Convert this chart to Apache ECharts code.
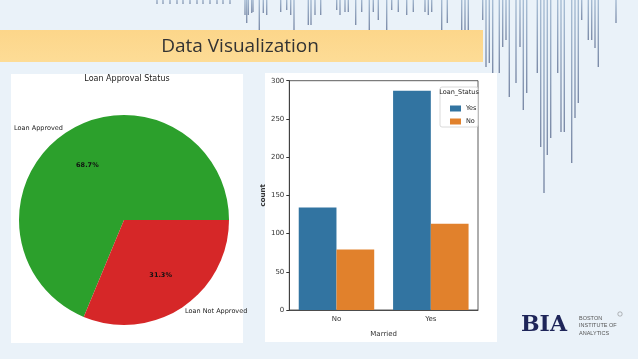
<!DOCTYPE html>
<html>
<head>
<meta charset="utf-8">
<script src="https://cdn.jsdelivr.net/npm/echarts@6/dist/echarts.min.js"></script>
<style>
html,body{margin:0;padding:0;background:#eaf2f9;}
#c{width:638px;height:359px;}
</style>
</head>
<body>
<div id="c"></div>
<script>
// ---- data ----
const pieLabels = ['Loan Approved', 'Loan Not Approved'];
const pieValues = [422, 192];
const pieColors = ['#2ca02c', '#d62728'];

const marriedCategories = ['No', 'Yes'];
const loanYes = [134, 287];
const loanNo = [79, 113];
const yTicks = [0, 50, 100, 150, 200, 250, 300];

// decorative hanging lines: [x, length]
const decoLines = [
  [157,4],[163,4],[170,4],[177,4],[183,4],[190,4],[197,4],[203,4],[210,4],[217,4],[223,4],[230,4],
  [245,15],[246.7,23],[248.3,15],[251.7,13],[253,12],[259.3,30],[263.3,13],[266.7,15],[280.7,12],[286.7,10],
  [290.7,15],[294,30],[308.3,25],[311,25],[315,15],[320.7,15],[336.7,10],[340,15],[345,12],[348.3,12],
  [355.7,25],[361.7,12],[369.3,30],[373.3,12],[378.3,20],[386.7,30],[391.7,10],[398.3,12],[406.7,15],
  [413.3,12],[425,12],[428.3,15],[431.7,12],[441.7,30],[447.3,23],[461.7,30],[465,30],[468.3,30],
  [482.7,20],[486,67],[489.3,63],[492.7,73],[499.3,73],[502.7,47],[506,40],[509.3,97],[516,83],[520,47],
  [523.3,110],[526.7,93],[537.3,73],[540.7,147],[544,193],[547.3,155],[550.7,138],[557.7,73],[561,132],
  [564.3,132],[571.7,163],[575,118],[578.3,103],[581.7,20],[588.3,40],[591.7,40],[595,48],[598.3,67],[616,23]
];

const chart = echarts.init(document.getElementById('c'), null, {renderer:'canvas'});
const font = 'DejaVu Sans';

const graphics = [];
// panels
graphics.push({type:'rect', z:-10, shape:{x:11,y:74,width:232,height:269}, style:{fill:'#ffffff'}});
graphics.push({type:'rect', z:-10, shape:{x:265,y:73,width:232,height:269}, style:{fill:'#ffffff'}});
// banner
graphics.push({type:'rect', z:-5, shape:{x:0,y:30,width:483,height:32},
  style:{fill:new echarts.graphic.LinearGradient(0,0,0,1,[{offset:0,color:'#fcd68a'},{offset:1,color:'#fddc96'}])}});
graphics.push({type:'text', z:5, x:240, y:47, style:{text:'Data Visualization', fill:'#333333',
  font:'19px "Open Sans"', align:'center', verticalAlign:'middle'}});
// deco lines
decoLines.forEach(d => {
  graphics.push({type:'line', z:-4, shape:{x1:d[0],y1:0,x2:d[0],y2:d[1]},
    style:{stroke:new echarts.graphic.LinearGradient(0,0,0,1,[{offset:0,color:'#a9bfd6'},{offset:1,color:'#7a89a6'}]), lineWidth:1.4}});
});
// pie title
graphics.push({type:'text', x:127, y:79, style:{text:'Loan Approval Status', fill:'#222', font:'8px "DejaVu Sans"', align:'center', verticalAlign:'middle'}});
// legend frame and title
graphics.push({type:'rect', z:10, shape:{x:440,y:87,width:38,height:40,r:2}, style:{fill:'rgba(255,255,255,0.85)', stroke:'#d0d0d0', lineWidth:0.8}});
graphics.push({type:'text', z:11, x:459, y:92.5, style:{text:'Loan_Status', fill:'#222', font:'6.5px "DejaVu Sans"', align:'center', verticalAlign:'middle'}});
// logo
graphics.push({type:'text', x:521, y:325, style:{text:'BIA', fill:'#1e2559', font:'bold 22px "DejaVu Serif"', align:'left', verticalAlign:'middle'}});
graphics.push({type:'text', x:579, y:318, style:{text:'BOSTON', fill:'#555', font:'5.5px "Liberation Sans"', verticalAlign:'middle'}});
graphics.push({type:'text', x:579, y:325.5, style:{text:'INSTITUTE OF', fill:'#555', font:'5.5px "Liberation Sans"', verticalAlign:'middle'}});
graphics.push({type:'text', x:579, y:333, style:{text:'ANALYTICS', fill:'#555', font:'5.5px "Liberation Sans"', verticalAlign:'middle'}});
graphics.push({type:'circle', shape:{cx:620,cy:314,r:2.2}, style:{fill:'none', stroke:'#777', lineWidth:0.5}});

const pieData = pieLabels.map((n,i)=>({name:n, value:pieValues[i], itemStyle:{color:pieColors[i]}}));

chart.setOption({
  animation:false,
  backgroundColor:'#eaf2f9',
  textStyle:{fontFamily:font},
  graphic:graphics,
  legend:{
    data:['Yes','No'], orient:'vertical', left:445, top:100, itemWidth:11, itemHeight:6, itemGap:6,
    icon:'rect', textStyle:{fontSize:6.5, color:'#222', fontFamily:font}, z:12
  },
  grid:{left:289.3, right:160, top:80.7, bottom:49, show:true, borderColor:'#333', borderWidth:0.8, backgroundColor:'transparent'},
  xAxis:{
    type:'category', data:marriedCategories,
    name:'Married', nameLocation:'middle', nameGap:21,
    nameTextStyle:{fontSize:7, color:'#333'},
    axisLine:{lineStyle:{color:'#333', width:0.8}},
    axisTick:{alignWithLabel:true, length:3, lineStyle:{color:'#333'}},
    axisLabel:{fontSize:7, color:'#333', margin:6}
  },
  yAxis:{
    type:'value', min:yTicks[0], max:yTicks[yTicks.length-1], interval:50,
    name:'count', nameLocation:'middle', nameGap:17,
    nameTextStyle:{fontSize:7, color:'#333', fontWeight:'bold'},
    axisLine:{show:true, lineStyle:{color:'#333', width:0.8}},
    axisTick:{show:true, length:3, lineStyle:{color:'#333'}},
    axisLabel:{fontSize:7, color:'#333', margin:5},
    splitLine:{show:false}
  },
  series:[
    {type:'bar', name:'Yes', data:loanYes, itemStyle:{color:'#3274a1'}, barGap:'0%', barCategoryGap:'20%'},
    {type:'bar', name:'No', data:loanNo, itemStyle:{color:'#e1812c'}, barGap:'0%', barCategoryGap:'20%'},
    {type:'pie', name:'pie', center:[124,220], radius:105, startAngle:0, clockwise:false,
      avoidLabelOverlap:false, data:pieData, itemStyle:{borderWidth:0},
      label:{show:true, position:'outside', formatter:'{b}', fontSize:6.5, color:'#222', fontFamily:font, distanceToLabelLine:0},
      labelLine:{show:false, length:5, length2:0}, emphasis:{disabled:true}
    },
    {type:'pie', name:'pct', center:[124,220], radius:[0,126], startAngle:0, clockwise:false,
      avoidLabelOverlap:false, silent:true, z:3,
      data:pieData.map(d=>({name:d.name, value:d.value, itemStyle:{color:'rgba(0,0,0,0)'}})),
      label:{show:true, position:'inside', formatter:p=>p.percent.toFixed(1)+'%', fontSize:6.5, color:'#111', fontWeight:'bold', fontFamily:font},
      labelLine:{show:false}, emphasis:{disabled:true}
    }
  ]
});
</script>
</body>
</html>
